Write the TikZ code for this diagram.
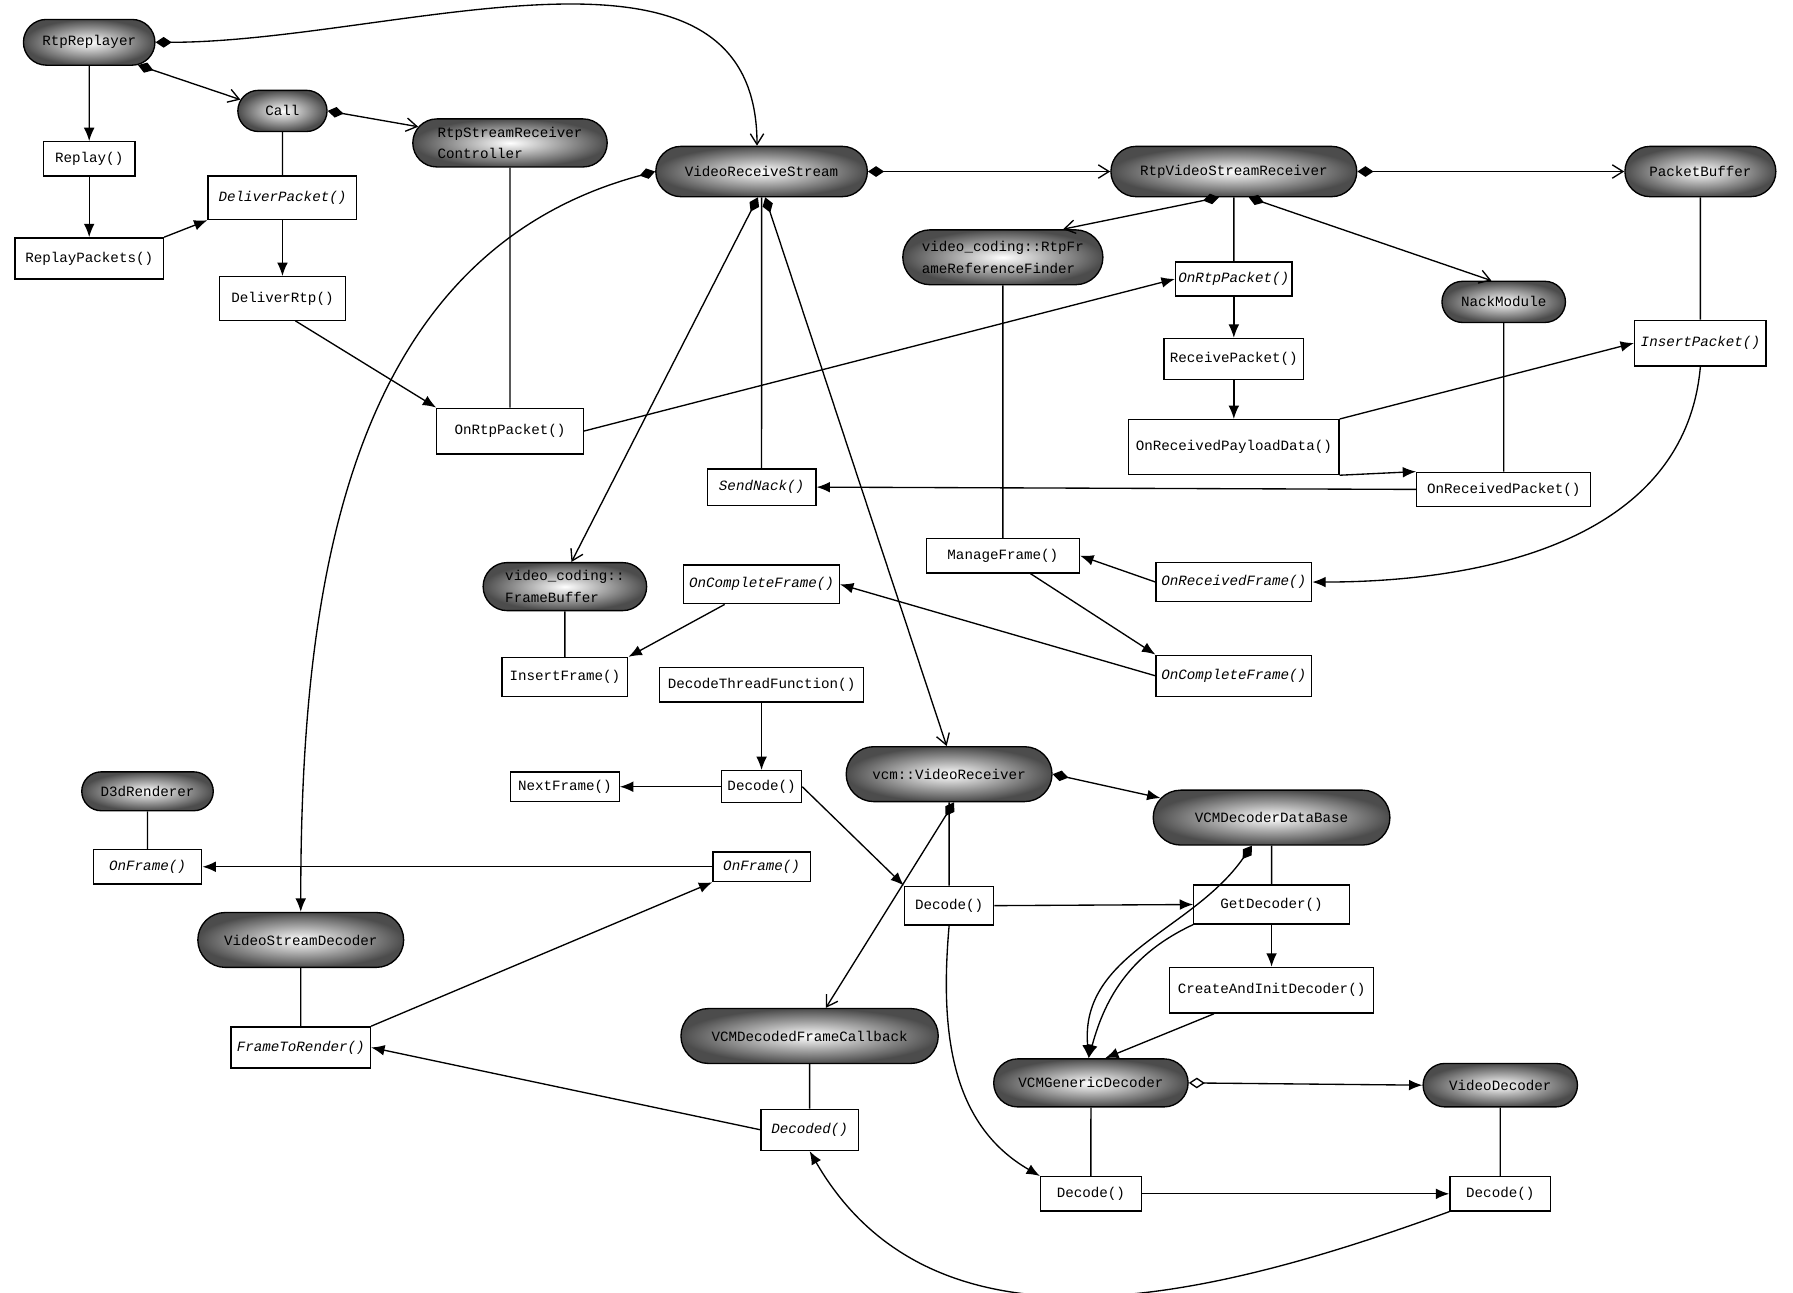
\documentclass[tikz,border=0pt]{standalone}
\usepackage{fontspec}
\newfontfamily\monofont{Liberation Mono}
\usetikzlibrary{arrows.meta,shapes.misc}
\tikzstyle{cls} = [rounded rectangle, draw=black, shade, inner color=white, outer color=black!70, inner sep=0pt, align=left]
\tikzstyle{fn} = [rectangle, draw=black, fill=white, inner sep=0pt]
\tikzstyle{call} = [-{Latex[length=5pt,width=4pt]}]
\tikzstyle{own} = [{Diamond[length=6pt,width=4pt]}-{Straight Barb[length=4pt,width=5pt]}]
\tikzstyle{ownf} = [{Diamond[length=6pt,width=4pt]}-{Latex[length=5pt,width=4pt]}]
\tikzset{font={\monofont\fontsize{5.3}{8}\selectfont},
  sz/.style 2 args={minimum width=#1*0.015cm, minimum height=#2*0.015cm}}

\begin{document}
\begin{tikzpicture}[x=0.015cm, y=-0.015cm, line width=0.5pt]
  \useasboundingbox (0,0) rectangle (1568,1130);

  % classes
  \node[cls, sz={115}{40}] (rr) at (78,37) {RtpReplayer};
  \node[cls, sz={78}{36}] (call) at (247,97) {Call};
  \node[cls, sz={170}{42}] (rsrc) at (446,125) {RtpStreamReceiver\\Controller};
  \node[cls, sz={185}{44}] (vrs) at (666,150) {VideoReceiveStream};
  \node[cls, sz={215}{44}] (rvsr) at (1079,150) {RtpVideoStreamReceiver};
  \node[cls, sz={132}{44}] (pb) at (1487,150) {PacketBuffer};
  \node[cls, sz={175}{48}] (rfrf) at (877,225) {video\_coding::RtpFr\\ameReferenceFinder};
  \node[cls, sz={108}{36}] (nack) at (1315,264) {NackModule};
  \node[cls, sz={143}{42}] (fbuf) at (494,513) {video\_coding::\\FrameBuffer};
  \node[cls, sz={180}{48}] (vr) at (830,677) {vcm::VideoReceiver};
  \node[cls, sz={207}{48}] (ddb) at (1112,715) {VCMDecoderDataBase};
  \node[cls, sz={115}{34}] (d3d) at (129,692) {D3dRenderer};
  \node[cls, sz={180}{48}] (vsd) at (263,822) {VideoStreamDecoder};
  \node[cls, sz={225}{48}] (dfc) at (708,906) {VCMDecodedFrameCallback};
  \node[cls, sz={170}{42}] (gdec) at (954,947) {VCMGenericDecoder};
  \node[cls, sz={135}{38}] (vdec) at (1312,949) {VideoDecoder};

  % methods
  \node[fn, sz={80}{30}] (replay) at (78,139) {Replay()};
  \node[fn, sz={130}{36}] (rpk) at (78,226) {ReplayPackets()};
  \node[fn, sz={130}{38}] (dpk) at (247,173) {\itshape DeliverPacket()};
  \node[fn, sz={110}{38}] (drtp) at (247,261) {DeliverRtp()};
  \node[fn, sz={128}{40}] (orp) at (446,377) {OnRtpPacket()};
  \node[fn, sz={95}{32}] (snack) at (666,426) {\itshape SendNack()};
  \node[fn, sz={102}{30}] (orp2) at (1079,244) {\itshape OnRtpPacket()};
  \node[fn, sz={122}{36}] (rcvp) at (1079,314) {ReceivePacket()};
  \node[fn, sz={184}{48}] (orpd) at (1079,391) {OnReceivedPayloadData()};
  \node[fn, sz={152}{30}] (orpk) at (1315,428) {OnReceivedPacket()};
  \node[fn, sz={115}{40}] (inspk) at (1487,300) {\itshape InsertPacket()};
  \node[fn, sz={134}{30}] (mfr) at (877,486) {ManageFrame()};
  \node[fn, sz={136}{34}] (orf) at (1079,509) {\itshape OnReceivedFrame()};
  \node[fn, sz={136}{34}] (ocf) at (666,511) {\itshape OnCompleteFrame()};
  \node[fn, sz={110}{34}] (insf) at (494,592) {InsertFrame()};
  \node[fn, sz={178}{30}] (dtf) at (666,599) {DecodeThreadFunction()};
  \node[fn, sz={136}{36}] (ocf2) at (1079,591) {\itshape OnCompleteFrame()};
  \node[fn, sz={95}{26}] (nxf) at (494,688) {NextFrame()};
  \node[fn, sz={70}{28}] (dec1) at (666,688) {Decode()};
  \node[fn, sz={95}{30}] (onf1) at (129,758) {\itshape OnFrame()};
  \node[fn, sz={85}{26}] (onf2) at (666,758) {\itshape OnFrame()};
  \node[fn, sz={78}{34}] (dec2) at (830,792) {Decode()};
  \node[fn, sz={136}{34}] (gdc) at (1112,791) {GetDecoder()};
  \node[fn, sz={178}{40}] (caid) at (1112,866) {CreateAndInitDecoder()};
  \node[fn, sz={122}{36}] (ftr) at (263,916) {\itshape FrameToRender()};
  \node[fn, sz={85}{36}] (dcd) at (708,988) {\itshape Decoded()};
  \node[fn, sz={88}{30}] (dec3) at (954,1044) {Decode()};
  \node[fn, sz={88}{30}] (dec4) at (1312,1044) {Decode()};

  % class members
  \draw (call) -- (dpk);
  \draw (rsrc) -- (orp);
  \draw (vrs) -- (snack);
  \draw (rvsr) -- (orp2);
  \draw (pb) -- (inspk);
  \draw (nack) -- (orpk);
  \draw (rfrf) -- (mfr);
  \draw (fbuf) -- (insf);
  \draw (d3d) -- (onf1);
  \draw (vr) -- (dec2);
  \draw (ddb) -- (gdc);
  \draw (vsd) -- (ftr);
  \draw (dfc) -- (dcd);
  \draw (gdec) -- (dec3);
  \draw (vdec) -- (dec4);

  % ownership
  \draw[own] (rr.-25) -- (call.165);
  \draw[own] (rr.east) to[out=0,in=90] (vrs.100);
  \draw[own] (call.east) -- (rsrc.170);
  \draw[own] (vrs.east) -- (rvsr.west);
  \draw[own] (rvsr.east) -- (pb.west);
  \draw[own] (rvsr.-120) -- (rfrf.25);
  \draw[own] (rvsr.-60) -- (nack.120);
  \draw[own] (vrs.-98) -- (fbuf.75);
  \draw[own] (vrs.-82) -- (vr.95);
  \draw[ownf] (vrs.west) to[out=195,in=90] (vsd.north);
  \draw[ownf] (vr.east) -- (ddb.170);
  \draw[own] (vr.-80) -- (dfc.60);
  \draw[ownf] (ddb.-125) to[out=235,in=95] (gdec.95);
  \draw[{Diamond[open,length=6pt,width=4pt]}-{Latex[length=5pt,width=4pt]}] (gdec.east) -- (vdec.west);

  % calls
  \draw[call] (rr) -- (replay);
  \draw[call] (replay) -- (rpk);
  \draw[call] (rpk.north east) -- (dpk.south west);
  \draw[call] (dpk) -- (drtp);
  \draw[call] (drtp.-60) -- (orp.north west);
  \draw[call] (orp.east) -- (orp2.west);
  \draw[call] (orp2) -- (rcvp);
  \draw[call] (rcvp) -- (orpd);
  \draw[call] (orpd.north east) -- (inspk.west);
  \draw[call] (orpd.south east) -- (orpk.north west);
  \draw[call] (orpk.west) -- (snack.east);
  \draw[call] (inspk.south) to[out=-95,in=0] (orf.east);
  \draw[call] (orf.west) -- (mfr.east);
  \draw[call] (mfr) -- (ocf2.north west);
  \draw[call] (ocf2.west) -- (ocf.east);
  \draw[call] (ocf) -- (insf.north east);
  \draw[call] (dtf) -- (dec1);
  \draw[call] (dec1) -- (nxf);
  \draw[call] (dec1.east) -- (dec2.north west);
  \draw[call] (onf2) -- (onf1);
  \draw[call] (ftr.north east) -- (onf2.south west);
  \draw[call] (dcd.west) -- (ftr.east);
  \draw[call] (dec2.east) -- (gdc.west);
  \draw[call] (gdc) -- (caid);
  \draw[call] (gdc.south west) to[out=205,in=75] (gdec.95);
  \draw[call] (caid) -- (gdec.60);
  \draw[call] (dec2.south) to[out=-95,in=150] (dec3.north west);
  \draw[call] (dec3) -- (dec4);
  \draw[call] (dec4.south west) to[out=200,in=-60] (dcd.south);
\end{tikzpicture}
\end{document}
